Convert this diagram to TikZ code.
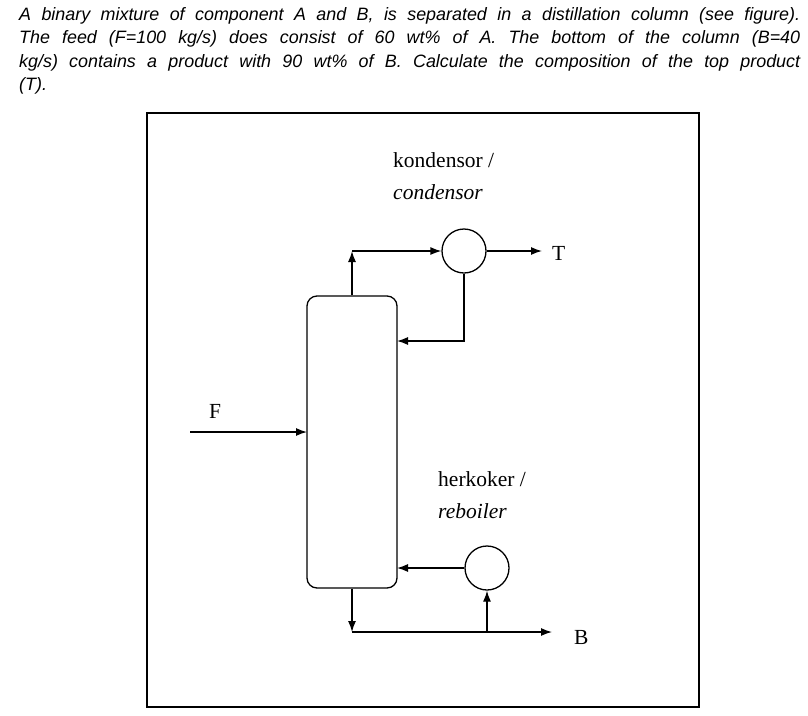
\documentclass[tikz,border=0pt]{standalone}
\usepackage{fontspec}
\setmainfont{Liberation Serif}
\newfontfamily\arial{Liberation Sans}
\usetikzlibrary{arrows.meta}
\begin{document}
\begin{tikzpicture}[x=1pt,y=-1pt,
  line/.style={line width=1.3pt,-{Latex[length=11pt,width=8pt]}},
  lbl/.style={font=\fontsize{21.5}{26}\selectfont,inner sep=0,anchor=west}]
\useasboundingbox (0,0) rectangle (808,715);
\node[anchor=north west,inner sep=0,text width=781pt,align=justify,font=\arial\itshape\fontsize{17.9}{23.5}\selectfont] (q) at (19,7)
 {A binary mixture of component A and B, is separated in a distillation column (see figure).\linebreak The feed (F=100 kg/s) does consist of 60 wt\% of A. The bottom of the column (B=40\linebreak kg/s) contains a product with 90 wt\% of B. Calculate the composition of the top product\linebreak (T).};
\draw[line width=1.3pt] (147,113) rectangle (699,707);
\node[draw,line width=1.3pt,rounded corners=10pt,minimum width=90pt,minimum height=292pt,inner sep=0] (col) at (352,442) {};
\node[draw,circle,line width=1.3pt,minimum size=44pt,inner sep=0] (cond) at (464,251) {};
\node[draw,circle,line width=1.3pt,minimum size=44pt,inner sep=0] (reb) at (487,568) {};
\coordinate (ct) at (352,251);
\coordinate (cb) at (352,632);
\coordinate (tEnd) at (542,251);
\coordinate (bEnd) at (552,632);
\coordinate (fStart) at (190,432);
\draw[line] (col.north) -- (ct);
\draw[line] (ct) -- (cond.west);
\draw[line] (cond.east) -- (tEnd);
\draw[line] (cond.south) |- (397,341);
\draw[line] (fStart) -- (307,432);
\draw[line] (col.south) -- (cb);
\draw[line] (cb) -- (bEnd);
\draw[line] (487,632) -- (reb.south);
\draw[line] (reb.west) -- (397,568);
\node[lbl] (tl) at (552,253) {T};
\node[lbl] (bl) at (574,637) {B};
\node[lbl] (fl) at (209,411) {F};
\node[lbl] (k1) at (393,160) {kondensor /};
\node[lbl,font=\itshape\fontsize{21.5}{26}\selectfont] (k2) at (393,192) {condensor};
\node[lbl] (h1) at (438,479) {herkoker /};
\node[lbl,font=\itshape\fontsize{21.5}{26}\selectfont] (h2) at (438,511) {reboiler};
\end{tikzpicture}
\end{document}
